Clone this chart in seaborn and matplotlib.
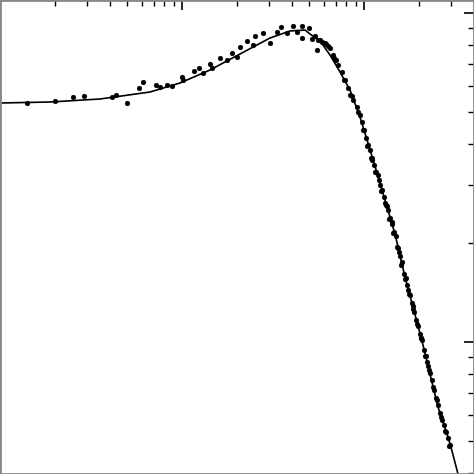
import numpy as np
import matplotlib
matplotlib.use("Agg")
import matplotlib.pyplot as plt
import seaborn as sns

sns.set_style("white")

# readings in pixel units, turned into data values with the
# axis calibration: x: 10x per 182 px, left edge = 0.1 ; y: 10x per 329 px, y=1 at 13 px
def lx(px): return 10 ** (np.array(px) / 182.0 - 1)
def ly(py): return 10 ** (-(np.array(py) - 13) / 329.0)

curve_px = [0, 50, 100, 150, 180, 210, 240, 270, 290, 305, 310, 320, 330, 340,
            350, 360, 368, 377, 385, 395, 405, 413, 422, 430, 438, 448, 452, 458]
curve_py = [103, 102, 99, 92, 83, 70, 54, 38, 31, 30, 34, 41, 55, 72,
            90, 117, 143, 173, 200, 234, 277, 307, 341, 374, 407, 437, 451, 474]

pts_px = [27, 55, 73, 84, 112, 116, 127, 139, 143, 156, 160, 167, 172, 182, 183,
          194, 199, 203, 210, 212, 220, 227, 232, 237, 240, 247, 253, 255, 263,
          270, 277, 281, 287, 293, 297, 302, 302, 309, 312, 317, 320, 325, 330,
          333, 338, 342, 345, 348, 353, 357, 360,
          362, 364, 366, 368, 370, 372, 374, 376, 378, 380, 382, 384, 386, 388,
          390, 392, 394, 396, 398, 400, 402, 404, 406, 408, 410, 412, 414, 416,
          418, 420, 422, 424, 426, 428, 430, 432, 434, 436, 438, 440, 442, 444,
          446, 448, 450,
          315, 322, 328, 336, 350, 358, 372, 379, 387, 392, 399, 407, 413, 421, 427,
          363, 367, 371, 375, 381, 385, 389, 393, 397, 401, 405, 409, 413, 417,
          421, 425, 429, 433, 437, 441, 445, 449, 318, 326, 334, 344, 352]
pts_py = [103, 101, 97, 96, 97, 95, 103, 88, 82, 85, 87, 85, 86, 77, 80,
          71, 68, 73, 64, 68, 58, 60, 53, 57, 47, 41, 45, 36, 33,
          43, 32, 27, 33, 26, 32, 26, 38, 28, 39, 50, 40, 43, 48,
          55, 65, 72, 80, 88, 100, 107, 115,
          122, 130, 138, 145, 150, 160, 165, 172, 175, 185, 190, 197, 205, 210,
          218, 222, 232, 236, 248, 256, 262, 274, 278, 290, 295, 303, 312, 320,
          326, 334, 340, 350, 356, 366, 373, 380, 390, 398, 405, 413, 420, 425,
          432, 438, 445,
          36, 42, 46, 60, 95, 112, 158, 180, 206, 224, 252, 285, 306, 338, 362,
          130, 146, 158, 172, 191, 203, 219, 233, 247, 265, 279, 294, 309, 324,
          338, 356, 370, 387, 400, 417, 431, 446, 40, 44, 58, 80, 96]

fig = plt.figure(figsize=(4.74, 4.74), dpi=100)
ax = fig.add_axes([0, 0, 1, 1])
sns.lineplot(x=lx(curve_px), y=ly(curve_py), color="black", lw=1.2, ax=ax,
             sort=False)
sns.scatterplot(x=lx(pts_px), y=ly(pts_py), color="black", s=12,
                edgecolor="black", ax=ax)
ax.set_xscale("log")
ax.set_yscale("log")
ax.set_xlim(0.1, 10 ** (474 / 182 - 1))
ax.set_ylim(10 ** (-461 / 329), 10 ** (13 / 329))
ax.tick_params(which="both", direction="in", top=True, right=True,
               labelbottom=False, labelleft=False, color="black")
ax.tick_params(which="major", length=7, width=1.2)
ax.tick_params(which="minor", length=4, width=1)
for s in ax.spines.values():
    s.set_color("#888888")
    s.set_linewidth(2)
ax.set_xlabel("")
ax.set_ylabel("")
fig.savefig("out.png", dpi=100)
